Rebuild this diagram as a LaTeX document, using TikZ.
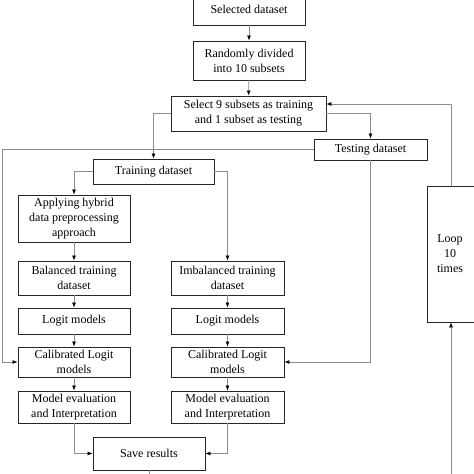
\documentclass[tikz,border=0pt]{standalone}
\usepackage{fontspec}
\setmainfont{Liberation Serif}
\usetikzlibrary{arrows.meta}
\begin{document}
\begin{tikzpicture}[x=1pt,y=-1pt,
  box/.style={draw=black!85,line width=0.9pt,fill=white,inner sep=0pt,align=center,
    font=\fontsize{12}{15}\selectfont},
  conn/.style={draw=black!45,line width=0.7pt},
  arr/.style={conn,-{Latex[color=black,length=5pt,width=4pt]}}]
\useasboundingbox (0,0) rectangle (474,474);
\clip (0,0) rectangle (474,474);
% nodes
\node[box,minimum width=112pt,minimum height=31pt] (sel) at (249,9.5) {Selected dataset};
\node[box,minimum width=112pt,minimum height=39pt] (rand) at (249,60.5) {Randomly divided\\into 10 subsets};
\node[box,minimum width=155pt,minimum height=35pt] (sel9) at (248.5,113.5) {Select 9 subsets as training\\and 1 subset as testing};
\node[box,minimum width=113pt,minimum height=21pt] (test) at (370.5,149.5) {Testing dataset};
\node[box,minimum width=121pt,minimum height=25pt] (train) at (153.5,171.5) {Training dataset};
\node[box,minimum width=112pt,minimum height=47pt] (apply) at (74,218.5) {Applying hybrid\\data preprocessing\\approach};
\node[box,minimum width=112pt,minimum height=34pt] (bal) at (74,278) {Balanced training\\dataset};
\node[box,minimum width=113pt,minimum height=34pt] (imb) at (227.5,278) {Imbalanced training\\dataset};
\node[box,minimum width=112pt,minimum height=26pt] (logL) at (74,321) {Logit models};
\node[box,minimum width=113pt,minimum height=26pt] (logR) at (227.5,321) {Logit models};
\node[box,minimum width=112pt,minimum height=30pt] (calL) at (74,362) {Calibrated Logit\\models};
\node[box,minimum width=113pt,minimum height=30pt] (calR) at (227.5,362) {Calibrated Logit\\models};
\node[box,minimum width=112pt,minimum height=32pt] (evalL) at (74,407) {Model evaluation\\and Interpretation};
\node[box,minimum width=113pt,minimum height=32pt] (evalR) at (227.5,407) {Model evaluation\\and Interpretation};
\node[box,minimum width=112pt,minimum height=33pt] (save) at (149,453.5) {Save results};
\node[box,minimum width=56pt,minimum height=136pt] (loop) at (455,254) {};
\node[font=\fontsize{12}{15}\selectfont,align=center] (looptxt) at (450,254) {Loop\\10\\times};
\coordinate (bot1) at (149,480);
\coordinate (bot2) at (451,480);
\coordinate (lefttop) at (2.7,149.5);
% connectors
\draw[arr] (sel) -- (rand);
\draw[arr] (rand) -- (sel9);
\draw[arr] (sel9.west) -| (train.north);
\draw[arr] (sel9.east) -| (test.north);
\draw[arr] (test.west) -- (lefttop) |- (calL.west);
\draw[arr] (test.south) |- (calR.east);
\draw[arr] (train.west) -| (apply.north);
\draw[arr] (train.east) -| (imb.north);
\draw[arr] (apply) -- (bal);
\draw[arr] (bal) -- (logL);
\draw[arr] (logL) -- (calL);
\draw[arr] (calL) -- (evalL);
\draw[arr] (imb) -- (logR);
\draw[arr] (logR) -- (calR);
\draw[arr] (calR) -- (evalR);
\draw[arr] (evalL.south) |- (save.west);
\draw[arr] (evalR.south) |- (save.east);
\draw[conn] (save.south) -- (bot1);
\draw[arr] (bot2) -- (bot2 |- loop.south);
\draw[arr] (bot2 |- loop.north) |- (sel9.east |- 0,104);
\end{tikzpicture}
\end{document}
